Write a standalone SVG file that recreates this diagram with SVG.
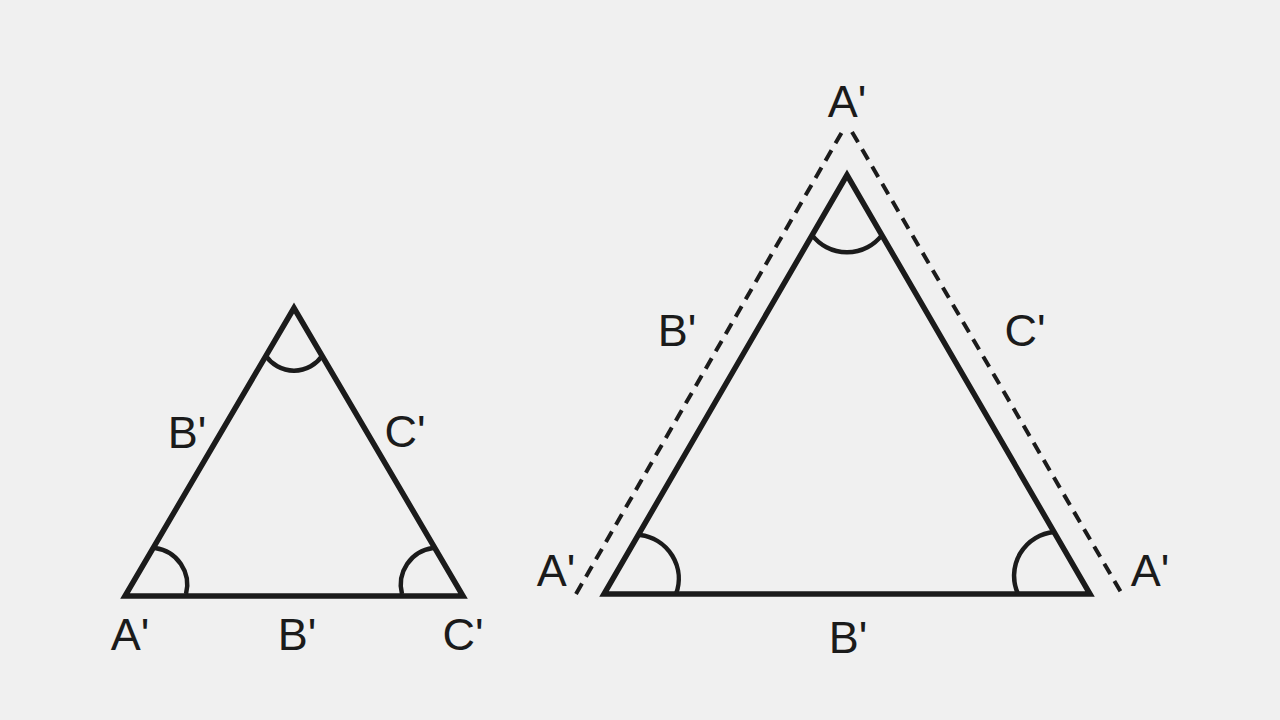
<svg xmlns="http://www.w3.org/2000/svg" width="1280" height="720" viewBox="0 0 1280 720">
<style>
.side{fill:none;stroke:#1b1b1b;stroke-width:5.5;stroke-linejoin:miter}
.arc{fill:none;stroke:#1b1b1b;stroke-width:4.5}
.dash{fill:none;stroke:#1b1b1b;stroke-width:4;stroke-dasharray:12 8}
.lbl{font-family:"Liberation Sans",Arial,sans-serif;font-size:45px;fill:#1b1b1b;text-anchor:middle}
</style>
<rect width="1280" height="720" fill="#f0f0f0"/>
<g id="small-triangle">
<polygon class="side" points="294,308 125,596 463,596"/>
<path class="arc" d="M 266 356 A 34 34 0 0 0 322 356"/>
<path class="arc" d="M 155 548 A 37 37 0 0 1 186 594"/>
<path class="arc" d="M 433 548 A 37 37 0 0 0 402 594"/>
<text class="lbl" x="187" y="448">B'</text>
<text class="lbl" x="405" y="447">C'</text>
<text class="lbl" x="130" y="650">A'</text>
<text class="lbl" x="297" y="650">B'</text>
<text class="lbl" x="463" y="650">C'</text>
</g>
<g id="large-triangle">
<line class="dash" x1="576" y1="594" x2="842" y2="132"/>
<line class="dash" x1="852" y1="132" x2="1122" y2="594"/>
<polygon class="side" points="847,175 604,594 1090,594"/>
<path class="arc" d="M 812 235 A 44 44 0 0 0 882 235"/>
<path class="arc" d="M 640 535 A 44 44 0 0 1 676 594"/>
<path class="arc" d="M 1054 532 A 44 44 0 0 0 1018 594"/>
<text class="lbl" x="847" y="117">A'</text>
<text class="lbl" x="677" y="346">B'</text>
<text class="lbl" x="1025" y="346">C'</text>
<text class="lbl" x="556" y="586">A'</text>
<text class="lbl" x="1150" y="586">A'</text>
<text class="lbl" x="848" y="653">B'</text>
</g>
</svg>
